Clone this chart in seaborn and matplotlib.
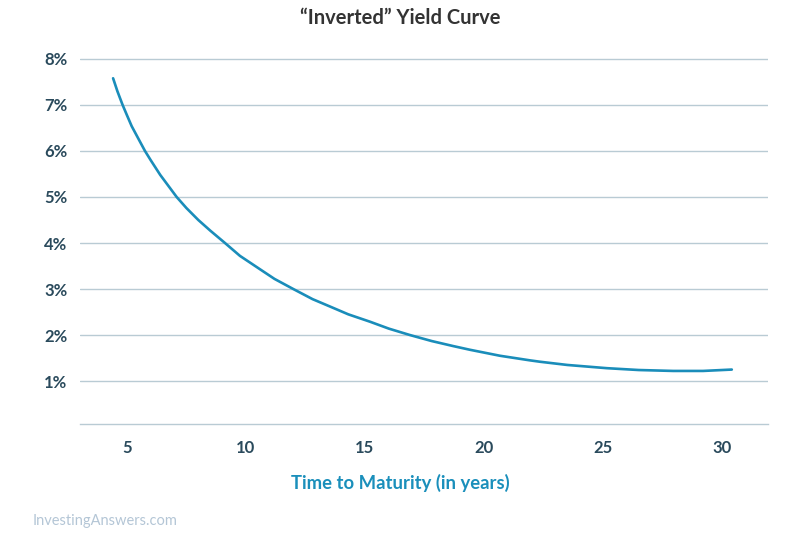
import matplotlib
matplotlib.use("Agg")
import matplotlib.pyplot as plt
import seaborn as sns
import pandas as pd

# Data
maturity_years = [4.42, 4.6, 4.82, 5.0, 5.2, 5.5, 5.76, 6.0, 6.4, 7.09,
                  7.5, 8.0, 8.5, 9.12, 9.75, 10.59, 11.2, 11.99, 12.8,
                  13.53, 14.3, 15.21, 16.0, 16.89, 17.8, 18.71, 19.41,
                  20.67, 21.93, 22.35, 23.5, 25.16, 26.5, 27.95, 29.2, 30.41]
yield_pct = [7.58, 7.30, 7.00, 6.78, 6.54, 6.25, 6.00, 5.80, 5.48, 5.00,
             4.76, 4.50, 4.27, 4.00, 3.72, 3.43, 3.22, 3.00, 2.78,
             2.62, 2.45, 2.29, 2.14, 2.00, 1.87, 1.76, 1.68,
             1.55, 1.45, 1.42, 1.35, 1.28, 1.24, 1.22, 1.22, 1.25]
x_ticks = [5, 10, 15, 20, 25, 30]
y_ticks = [1, 2, 3, 4, 5, 6, 7, 8]
y_tick_labels = ["1%", "2%", "3%", "4%", "5%", "6%", "7%", "8%"]

title = "\u201cInverted\u201d Yield Curve"
x_label = "Time to Maturity (in years)"
watermark = "InvestingAnswers.com"

df = pd.DataFrame({"years": maturity_years, "yield": yield_pct})

sns.set_theme(style="white")
plt.rcParams["font.family"] = ["Lato", "DejaVu Sans"]

line_color = "#1a8dba"
grid_color = "#b9cbd4"
tick_color = "#2a4a5c"

fig = plt.figure(figsize=(8, 5.38), dpi=100)
ax = fig.add_axes([0.10, 0.2113, 0.86, 0.6877])

sns.lineplot(data=df, x="years", y="yield", ax=ax, color=line_color,
             linewidth=1.9, sort=False)
ax.lines[0].set_solid_joinstyle("round")

ax.set_xlim(3.03, 31.93)
ax.set_ylim(0.06, 8.1)
ax.set_xticks(x_ticks)
ax.set_xticklabels([str(t) for t in x_ticks])
ax.set_yticks(y_ticks)
ax.set_yticklabels(y_tick_labels)

ax.yaxis.grid(True, color=grid_color, linewidth=1.0)
ax.xaxis.grid(False)
for side in ["top", "left", "right"]:
    ax.spines[side].set_visible(False)
ax.spines["bottom"].set_color(grid_color)
ax.spines["bottom"].set_linewidth(1.0)

ax.tick_params(axis="both", length=0, labelsize=12, labelcolor=tick_color)
ax.tick_params(axis="y", pad=9)
ax.tick_params(axis="x", pad=11)
for lbl in ax.get_xticklabels() + ax.get_yticklabels():
    lbl.set_fontweight("bold")

ax.set_xlabel("")
ax.set_ylabel("")

fig.text(0.5, 0.967, title, ha="center", va="center", fontsize=14.5,
         fontweight="bold", color="#333333")
fig.text(0.5, 1 - 483 / 538, x_label, ha="center", va="center",
         fontsize=13.3, fontweight="bold", color="#1a8fbb")
fig.text(33 / 800, 1 - 521 / 538, watermark, ha="left", va="center",
         fontsize=10.5, color="#b4c6d6")

fig.savefig("out.png", dpi=100)
